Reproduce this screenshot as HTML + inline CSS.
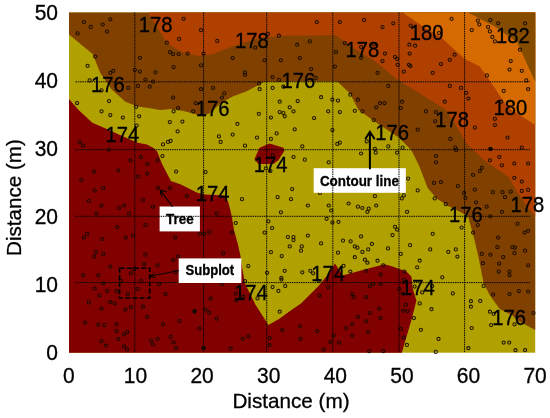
<!DOCTYPE html>
<html><head><meta charset="utf-8"><title>Contour plot</title>
<style>
html,body{margin:0;padding:0;background:#fff}
svg{display:block;filter:blur(0.4px)}
text{font-family:"Liberation Sans",Arial,sans-serif;fill:#000;stroke:#000;stroke-width:0.3px}
.b{font-weight:bold}
</style></head><body>
<svg width="550" height="418" viewBox="0 0 550 418">
<rect width="550" height="418" fill="#fff"/>
<rect x="69" y="12.5" width="466.2" height="340.2" fill="#b0a000"/>
<polygon fill="#804000" points="69,12.5 69,34.6 92.7,54 100.2,72.8 111.5,89.2 125.3,101.7 137.7,106.4 150.5,108.2 160,110 171,109 183.6,111 196.4,114.5 203.6,115.5 211,112.7 220,103.6 232.7,96.4 247.3,91 264.5,81.8 300,81.5 337.3,81.5 350,93.6 358.6,110 376.2,122.6 398.8,137.6 411.4,150.2 418.9,165.3 427.7,187.9 436.4,198.2 447.3,205.5 461.8,212.7 468.2,216.4 471,227.3 474.5,240 478.6,257.7 483.6,282.9 489.9,295.4 500,309.2 512.5,315.5 517.5,320.5 535.2,330 535.2,12.5"/>
<polygon fill="#b04000" points="148,12.5 160.5,32.6 166.8,42.7 180.6,51.5 198,56 213,54 235.7,45.2 260.8,37.7 283.4,35.7 336,35.2 351,46.5 373.7,60.3 398.8,80.4 419,93 430.8,100.5 446,110 457.2,127.6 466,142.7 474.8,151.5 487.4,162.8 508.4,176.8 515.1,188.5 521,197.7 528.5,208.6 535.2,216.3 535.2,12.5"/>
<polygon fill="#d46a00" points="402.6,12.5 419,23.8 441.5,37.7 464.8,59 479.8,66.5 494.9,87.9 503.7,101.7 511.2,110 520,115 535.2,125 535.2,12.5"/>
<polygon fill="#854c00" points="467.8,12.5 494.9,26.4 517.5,42.7 527.6,65.3 535.2,81.6 535.2,12.5"/>
<polygon fill="#810000" points="69,99.1 78.6,110 92.3,122.7 106.8,129.1 123.2,136.4 137.7,142.7 146.8,144.5 154,148.2 157.3,151.8 161.8,163.6 170.9,180.9 180.9,184.5 197.3,192.7 204.5,194.5 224.5,195.5 228.2,201.8 231.5,215 234,230 237.8,244 240.3,255 242,267 245,283.5 255.5,304.7 268.4,325 279,319 290,311 301,303.6 310,294.5 319,285.5 328,274.5 335,263.5 342.7,275.5 350,273.6 366.4,269 384.5,264.3 392.5,266.5 406.4,271.5 411.4,276.6 412.6,287.9 416.4,300.4 413.9,310.5 411.4,320 401.8,352.7 69,352.7"/>
<polygon fill="#810000" points="259.6,147.7 269.6,143.4 283.4,147.7 284.7,150.2 278.4,160.3 273.4,164 258.3,164 254.5,159"/>
<g fill="none" stroke="#150a00" stroke-opacity="0.92" stroke-width="1.05">
<circle cx="83.9" cy="22.1" r="1.6"/><circle cx="90.7" cy="26.9" r="1.6"/><circle cx="77.6" cy="33.4" r="1.6"/><circle cx="102.7" cy="24.6" r="1.6"/><circle cx="110.3" cy="19.3" r="1.6"/><circle cx="107.0" cy="31.6" r="1.6"/><circle cx="95.2" cy="56.5" r="1.6"/><circle cx="87.6" cy="65.8" r="1.6"/><circle cx="113.3" cy="70.8" r="1.6"/><circle cx="110.3" cy="72.8" r="1.6"/><circle cx="89.6" cy="80.4" r="1.6"/><circle cx="101.5" cy="90.4" r="1.6"/><circle cx="77.1" cy="103.0" r="1.6"/><circle cx="109.0" cy="101.0" r="1.6"/><circle cx="128.3" cy="87.9" r="1.6"/><circle cx="134.9" cy="69.8" r="1.6"/><circle cx="139.9" cy="71.6" r="1.6"/><circle cx="139.9" cy="57.8" r="1.6"/><circle cx="145.4" cy="79.6" r="1.6"/><circle cx="137.9" cy="85.9" r="1.6"/><circle cx="149.7" cy="86.7" r="1.6"/><circle cx="153.0" cy="81.6" r="1.6"/><circle cx="155.5" cy="72.3" r="1.6"/><circle cx="173.6" cy="67.1" r="1.6"/><circle cx="166.8" cy="42.7" r="1.6"/><circle cx="179.1" cy="38.9" r="1.6"/><circle cx="170.1" cy="52.2" r="1.6"/><circle cx="173.1" cy="54.0" r="1.6"/><circle cx="178.6" cy="54.0" r="1.6"/><circle cx="187.6" cy="53.5" r="1.6"/><circle cx="183.6" cy="18.8" r="1.6"/><circle cx="173.1" cy="97.5" r="1.6"/><circle cx="195.7" cy="103.0" r="1.6"/><circle cx="136.1" cy="106.8" r="1.6"/><circle cx="178.1" cy="108.0" r="1.6"/><circle cx="201.0" cy="30.1" r="1.6"/><circle cx="217.3" cy="40.9" r="1.6"/><circle cx="203.5" cy="53.5" r="1.6"/><circle cx="201.0" cy="65.3" r="1.6"/><circle cx="232.7" cy="58.0" r="1.6"/><circle cx="255.3" cy="47.7" r="1.6"/><circle cx="267.8" cy="33.9" r="1.6"/><circle cx="278.9" cy="35.7" r="1.6"/><circle cx="264.6" cy="60.3" r="1.6"/><circle cx="280.9" cy="60.3" r="1.6"/><circle cx="245.0" cy="72.3" r="1.6"/><circle cx="245.0" cy="74.8" r="1.6"/><circle cx="259.1" cy="83.6" r="1.6"/><circle cx="259.6" cy="89.2" r="1.6"/><circle cx="272.6" cy="77.1" r="1.6"/><circle cx="278.9" cy="79.9" r="1.6"/><circle cx="272.6" cy="87.9" r="1.6"/><circle cx="283.4" cy="86.7" r="1.6"/><circle cx="213.1" cy="87.9" r="1.6"/><circle cx="224.4" cy="93.4" r="1.6"/><circle cx="221.9" cy="97.5" r="1.6"/><circle cx="201.0" cy="89.2" r="1.6"/><circle cx="297.2" cy="44.7" r="1.6"/><circle cx="309.8" cy="41.4" r="1.6"/><circle cx="316.8" cy="22.1" r="1.6"/><circle cx="299.8" cy="58.0" r="1.6"/><circle cx="311.1" cy="69.1" r="1.6"/><circle cx="315.6" cy="77.9" r="1.6"/><circle cx="334.9" cy="66.6" r="1.6"/><circle cx="321.1" cy="97.2" r="1.6"/><circle cx="297.7" cy="101.0" r="1.6"/><circle cx="279.7" cy="101.7" r="1.6"/><circle cx="289.7" cy="107.3" r="1.6"/><circle cx="332.4" cy="99.7" r="1.6"/><circle cx="339.8" cy="22.1" r="1.6"/><circle cx="364.1" cy="20.1" r="1.6"/><circle cx="382.5" cy="27.1" r="1.6"/><circle cx="393.3" cy="23.3" r="1.6"/><circle cx="410.6" cy="25.6" r="1.6"/><circle cx="451.6" cy="18.8" r="1.6"/><circle cx="471.7" cy="30.1" r="1.6"/><circle cx="344.8" cy="43.2" r="1.6"/><circle cx="361.1" cy="47.0" r="1.6"/><circle cx="373.7" cy="44.4" r="1.6"/><circle cx="361.1" cy="57.8" r="1.6"/><circle cx="385.0" cy="53.5" r="1.6"/><circle cx="382.5" cy="61.0" r="1.6"/><circle cx="395.0" cy="57.0" r="1.6"/><circle cx="397.1" cy="59.0" r="1.6"/><circle cx="397.6" cy="64.8" r="1.6"/><circle cx="377.5" cy="72.8" r="1.6"/><circle cx="403.8" cy="71.6" r="1.6"/><circle cx="409.4" cy="44.7" r="1.6"/><circle cx="415.1" cy="45.7" r="1.6"/><circle cx="409.6" cy="53.5" r="1.6"/><circle cx="408.9" cy="64.8" r="1.6"/><circle cx="410.4" cy="66.1" r="1.6"/><circle cx="432.7" cy="72.8" r="1.6"/><circle cx="441.0" cy="64.0" r="1.6"/><circle cx="449.8" cy="59.8" r="1.6"/><circle cx="454.6" cy="54.7" r="1.6"/><circle cx="439.0" cy="33.1" r="1.6"/><circle cx="388.3" cy="85.9" r="1.6"/><circle cx="350.3" cy="94.7" r="1.6"/><circle cx="338.0" cy="100.5" r="1.6"/><circle cx="357.9" cy="99.7" r="1.6"/><circle cx="380.0" cy="103.0" r="1.6"/><circle cx="384.5" cy="103.0" r="1.6"/><circle cx="376.2" cy="107.3" r="1.6"/><circle cx="402.1" cy="101.7" r="1.6"/><circle cx="400.8" cy="108.0" r="1.6"/><circle cx="444.8" cy="101.7" r="1.6"/><circle cx="449.8" cy="85.9" r="1.6"/><circle cx="461.1" cy="87.9" r="1.6"/><circle cx="466.2" cy="92.9" r="1.6"/><circle cx="468.4" cy="98.5" r="1.6"/><circle cx="336.0" cy="52.2" r="1.6"/><circle cx="477.8" cy="20.6" r="1.6"/><circle cx="479.3" cy="24.6" r="1.6"/><circle cx="488.1" cy="27.1" r="1.6"/><circle cx="489.9" cy="31.4" r="1.6"/><circle cx="492.4" cy="36.9" r="1.6"/><circle cx="494.9" cy="41.4" r="1.6"/><circle cx="490.4" cy="20.1" r="1.6"/><circle cx="498.2" cy="23.3" r="1.6"/><circle cx="525.1" cy="23.3" r="1.6"/><circle cx="520.0" cy="49.7" r="1.6"/><circle cx="510.7" cy="61.0" r="1.6"/><circle cx="509.5" cy="69.6" r="1.6"/><circle cx="521.8" cy="70.8" r="1.6"/><circle cx="526.3" cy="80.4" r="1.6"/><circle cx="528.1" cy="89.2" r="1.6"/><circle cx="503.7" cy="90.9" r="1.6"/><circle cx="486.9" cy="75.4" r="1.6"/><circle cx="501.2" cy="101.7" r="1.6"/><circle cx="101.5" cy="111.3" r="1.6"/><circle cx="110.3" cy="115.0" r="1.6"/><circle cx="122.8" cy="117.5" r="1.6"/><circle cx="139.1" cy="116.3" r="1.6"/><circle cx="136.6" cy="125.6" r="1.6"/><circle cx="169.8" cy="122.1" r="1.6"/><circle cx="182.4" cy="121.6" r="1.6"/><circle cx="177.6" cy="131.4" r="1.6"/><circle cx="163.0" cy="144.4" r="1.6"/><circle cx="168.0" cy="141.9" r="1.6"/><circle cx="170.6" cy="140.9" r="1.6"/><circle cx="162.5" cy="156.0" r="1.6"/><circle cx="176.1" cy="171.6" r="1.6"/><circle cx="186.9" cy="195.9" r="1.6"/><circle cx="79.6" cy="142.2" r="1.6"/><circle cx="83.1" cy="145.7" r="1.6"/><circle cx="109.0" cy="149.7" r="1.6"/><circle cx="130.4" cy="160.3" r="1.6"/><circle cx="140.9" cy="157.2" r="1.6"/><circle cx="147.4" cy="164.0" r="1.6"/><circle cx="157.5" cy="160.3" r="1.6"/><circle cx="93.9" cy="171.6" r="1.6"/><circle cx="118.3" cy="170.3" r="1.6"/><circle cx="147.2" cy="173.6" r="1.6"/><circle cx="137.9" cy="176.6" r="1.6"/><circle cx="81.4" cy="179.8" r="1.6"/><circle cx="103.2" cy="187.9" r="1.6"/><circle cx="94.7" cy="190.4" r="1.6"/><circle cx="158.0" cy="187.9" r="1.6"/><circle cx="169.8" cy="187.9" r="1.6"/><circle cx="88.9" cy="201.0" r="1.6"/><circle cx="101.5" cy="205.5" r="1.6"/><circle cx="124.1" cy="205.5" r="1.6"/><circle cx="119.0" cy="208.0" r="1.6"/><circle cx="142.9" cy="199.9" r="1.6"/><circle cx="153.0" cy="206.7" r="1.6"/><circle cx="129.1" cy="213.5" r="1.6"/><circle cx="96.4" cy="213.5" r="1.6"/><circle cx="173.6" cy="111.3" r="1.6"/><circle cx="193.2" cy="111.3" r="1.6"/><circle cx="258.8" cy="113.8" r="1.6"/><circle cx="270.9" cy="117.5" r="1.6"/><circle cx="279.7" cy="112.0" r="1.6"/><circle cx="283.4" cy="113.0" r="1.6"/><circle cx="284.7" cy="116.3" r="1.6"/><circle cx="293.5" cy="111.3" r="1.6"/><circle cx="314.1" cy="118.0" r="1.6"/><circle cx="328.2" cy="111.3" r="1.6"/><circle cx="237.4" cy="123.8" r="1.6"/><circle cx="294.7" cy="129.3" r="1.6"/><circle cx="332.4" cy="130.1" r="1.6"/><circle cx="218.9" cy="136.4" r="1.6"/><circle cx="232.7" cy="134.6" r="1.6"/><circle cx="220.6" cy="141.9" r="1.6"/><circle cx="257.0" cy="137.6" r="1.6"/><circle cx="270.9" cy="138.9" r="1.6"/><circle cx="276.6" cy="133.4" r="1.6"/><circle cx="245.0" cy="145.7" r="1.6"/><circle cx="302.3" cy="146.4" r="1.6"/><circle cx="293.5" cy="157.0" r="1.6"/><circle cx="304.8" cy="159.7" r="1.6"/><circle cx="328.7" cy="162.3" r="1.6"/><circle cx="272.9" cy="155.2" r="1.6"/><circle cx="265.8" cy="168.3" r="1.6"/><circle cx="270.4" cy="171.1" r="1.6"/><circle cx="205.5" cy="172.1" r="1.6"/><circle cx="292.2" cy="189.1" r="1.6"/><circle cx="319.9" cy="192.9" r="1.6"/><circle cx="242.0" cy="199.2" r="1.6"/><circle cx="277.6" cy="197.2" r="1.6"/><circle cx="291.0" cy="199.2" r="1.6"/><circle cx="307.8" cy="205.5" r="1.6"/><circle cx="328.7" cy="205.5" r="1.6"/><circle cx="280.9" cy="212.3" r="1.6"/><circle cx="331.2" cy="210.5" r="1.6"/><circle cx="216.8" cy="213.5" r="1.6"/><circle cx="339.8" cy="112.0" r="1.6"/><circle cx="354.8" cy="110.8" r="1.6"/><circle cx="362.4" cy="111.3" r="1.6"/><circle cx="373.7" cy="120.1" r="1.6"/><circle cx="366.7" cy="141.4" r="1.6"/><circle cx="339.8" cy="142.7" r="1.6"/><circle cx="337.3" cy="143.9" r="1.6"/><circle cx="374.9" cy="148.9" r="1.6"/><circle cx="375.7" cy="152.7" r="1.6"/><circle cx="361.1" cy="153.5" r="1.6"/><circle cx="388.3" cy="146.4" r="1.6"/><circle cx="402.6" cy="147.7" r="1.6"/><circle cx="397.1" cy="152.7" r="1.6"/><circle cx="417.7" cy="129.6" r="1.6"/><circle cx="435.2" cy="121.3" r="1.6"/><circle cx="425.9" cy="111.3" r="1.6"/><circle cx="436.0" cy="112.0" r="1.6"/><circle cx="450.3" cy="138.9" r="1.6"/><circle cx="455.3" cy="147.7" r="1.6"/><circle cx="456.1" cy="150.2" r="1.6"/><circle cx="436.0" cy="156.0" r="1.6"/><circle cx="436.0" cy="162.3" r="1.6"/><circle cx="408.1" cy="178.6" r="1.6"/><circle cx="434.0" cy="182.9" r="1.6"/><circle cx="441.0" cy="182.1" r="1.6"/><circle cx="457.9" cy="186.1" r="1.6"/><circle cx="417.7" cy="190.4" r="1.6"/><circle cx="403.8" cy="195.4" r="1.6"/><circle cx="401.8" cy="198.4" r="1.6"/><circle cx="374.9" cy="196.2" r="1.6"/><circle cx="434.7" cy="198.4" r="1.6"/><circle cx="445.8" cy="204.2" r="1.6"/><circle cx="465.4" cy="197.9" r="1.6"/><circle cx="464.1" cy="192.9" r="1.6"/><circle cx="348.6" cy="203.5" r="1.6"/><circle cx="357.9" cy="206.7" r="1.6"/><circle cx="362.4" cy="208.0" r="1.6"/><circle cx="368.7" cy="208.7" r="1.6"/><circle cx="367.4" cy="211.8" r="1.6"/><circle cx="376.2" cy="205.5" r="1.6"/><circle cx="407.1" cy="211.8" r="1.6"/><circle cx="474.8" cy="127.6" r="1.6"/><circle cx="494.9" cy="118.8" r="1.6"/><circle cx="494.9" cy="125.1" r="1.6"/><circle cx="507.5" cy="137.6" r="1.6"/><circle cx="490.6" cy="148.9" r="1.6"/><circle cx="521.8" cy="147.7" r="1.6"/><circle cx="499.4" cy="157.0" r="1.6"/><circle cx="489.9" cy="160.3" r="1.6"/><circle cx="501.9" cy="165.3" r="1.6"/><circle cx="514.3" cy="163.5" r="1.6"/><circle cx="528.1" cy="163.5" r="1.6"/><circle cx="481.8" cy="167.8" r="1.6"/><circle cx="479.8" cy="171.1" r="1.6"/><circle cx="473.1" cy="174.8" r="1.6"/><circle cx="514.3" cy="177.8" r="1.6"/><circle cx="521.8" cy="181.6" r="1.6"/><circle cx="474.8" cy="189.6" r="1.6"/><circle cx="492.9" cy="192.2" r="1.6"/><circle cx="502.5" cy="192.2" r="1.6"/><circle cx="510.7" cy="191.7" r="1.6"/><circle cx="521.8" cy="190.9" r="1.6"/><circle cx="528.1" cy="189.9" r="1.6"/><circle cx="505.0" cy="197.2" r="1.6"/><circle cx="476.1" cy="202.5" r="1.6"/><circle cx="486.6" cy="206.7" r="1.6"/><circle cx="501.9" cy="211.8" r="1.6"/><circle cx="117.3" cy="227.1" r="1.6"/><circle cx="145.4" cy="225.1" r="1.6"/><circle cx="87.1" cy="233.8" r="1.6"/><circle cx="83.9" cy="237.6" r="1.6"/><circle cx="102.2" cy="238.9" r="1.6"/><circle cx="125.8" cy="237.6" r="1.6"/><circle cx="132.9" cy="235.6" r="1.6"/><circle cx="175.1" cy="237.6" r="1.6"/><circle cx="95.9" cy="252.2" r="1.6"/><circle cx="94.4" cy="256.5" r="1.6"/><circle cx="103.2" cy="253.9" r="1.6"/><circle cx="145.4" cy="254.7" r="1.6"/><circle cx="178.1" cy="256.5" r="1.6"/><circle cx="173.1" cy="260.2" r="1.6"/><circle cx="144.2" cy="264.0" r="1.6"/><circle cx="157.5" cy="265.3" r="1.6"/><circle cx="110.3" cy="266.5" r="1.6"/><circle cx="134.1" cy="269.0" r="1.6"/><circle cx="130.9" cy="273.3" r="1.6"/><circle cx="83.1" cy="275.3" r="1.6"/><circle cx="98.2" cy="275.3" r="1.6"/><circle cx="175.6" cy="272.3" r="1.6"/><circle cx="121.1" cy="280.8" r="1.6"/><circle cx="141.2" cy="281.1" r="1.6"/><circle cx="103.2" cy="283.3" r="1.6"/><circle cx="159.2" cy="284.1" r="1.6"/><circle cx="94.7" cy="288.6" r="1.6"/><circle cx="107.2" cy="290.9" r="1.6"/><circle cx="116.5" cy="291.1" r="1.6"/><circle cx="137.4" cy="289.1" r="1.6"/><circle cx="99.4" cy="295.4" r="1.6"/><circle cx="127.8" cy="294.1" r="1.6"/><circle cx="165.5" cy="294.1" r="1.6"/><circle cx="88.9" cy="302.4" r="1.6"/><circle cx="110.3" cy="302.2" r="1.6"/><circle cx="114.8" cy="303.4" r="1.6"/><circle cx="142.9" cy="306.7" r="1.6"/><circle cx="101.5" cy="308.5" r="1.6"/><circle cx="125.3" cy="309.7" r="1.6"/><circle cx="130.9" cy="307.2" r="1.6"/><circle cx="147.2" cy="316.8" r="1.6"/><circle cx="194.4" cy="311.7" r="1.6"/><circle cx="235.7" cy="223.0" r="1.6"/><circle cx="231.9" cy="232.6" r="1.6"/><circle cx="268.4" cy="221.3" r="1.6"/><circle cx="272.1" cy="228.1" r="1.6"/><circle cx="264.6" cy="232.6" r="1.6"/><circle cx="287.9" cy="237.1" r="1.6"/><circle cx="293.5" cy="237.1" r="1.6"/><circle cx="293.5" cy="240.1" r="1.6"/><circle cx="307.8" cy="235.6" r="1.6"/><circle cx="321.1" cy="243.4" r="1.6"/><circle cx="289.7" cy="246.4" r="1.6"/><circle cx="301.8" cy="246.4" r="1.6"/><circle cx="301.0" cy="250.7" r="1.6"/><circle cx="270.9" cy="252.2" r="1.6"/><circle cx="281.7" cy="256.0" r="1.6"/><circle cx="223.1" cy="253.4" r="1.6"/><circle cx="209.3" cy="232.1" r="1.6"/><circle cx="204.3" cy="233.8" r="1.6"/><circle cx="200.0" cy="233.8" r="1.6"/><circle cx="326.6" cy="218.8" r="1.6"/><circle cx="332.4" cy="222.5" r="1.6"/><circle cx="248.3" cy="266.0" r="1.6"/><circle cx="284.7" cy="270.8" r="1.6"/><circle cx="267.1" cy="272.8" r="1.6"/><circle cx="302.3" cy="272.3" r="1.6"/><circle cx="310.3" cy="270.8" r="1.6"/><circle cx="313.1" cy="273.3" r="1.6"/><circle cx="281.4" cy="277.8" r="1.6"/><circle cx="281.4" cy="279.6" r="1.6"/><circle cx="245.0" cy="281.1" r="1.6"/><circle cx="272.6" cy="287.1" r="1.6"/><circle cx="285.2" cy="285.9" r="1.6"/><circle cx="278.4" cy="290.9" r="1.6"/><circle cx="318.6" cy="280.8" r="1.6"/><circle cx="328.2" cy="287.1" r="1.6"/><circle cx="319.4" cy="295.4" r="1.6"/><circle cx="221.9" cy="284.1" r="1.6"/><circle cx="235.7" cy="293.6" r="1.6"/><circle cx="243.2" cy="296.7" r="1.6"/><circle cx="257.5" cy="298.4" r="1.6"/><circle cx="210.6" cy="298.7" r="1.6"/><circle cx="236.2" cy="300.4" r="1.6"/><circle cx="205.5" cy="309.7" r="1.6"/><circle cx="209.3" cy="312.5" r="1.6"/><circle cx="279.7" cy="311.7" r="1.6"/><circle cx="216.8" cy="318.5" r="1.6"/><circle cx="338.5" cy="221.8" r="1.6"/><circle cx="395.0" cy="226.8" r="1.6"/><circle cx="397.1" cy="229.6" r="1.6"/><circle cx="392.5" cy="235.1" r="1.6"/><circle cx="432.7" cy="233.8" r="1.6"/><circle cx="361.1" cy="236.4" r="1.6"/><circle cx="343.0" cy="240.6" r="1.6"/><circle cx="350.6" cy="241.4" r="1.6"/><circle cx="371.9" cy="243.9" r="1.6"/><circle cx="354.8" cy="246.4" r="1.6"/><circle cx="357.4" cy="247.7" r="1.6"/><circle cx="368.2" cy="249.4" r="1.6"/><circle cx="362.4" cy="251.9" r="1.6"/><circle cx="388.0" cy="248.4" r="1.6"/><circle cx="410.1" cy="245.2" r="1.6"/><circle cx="430.2" cy="249.4" r="1.6"/><circle cx="455.8" cy="249.4" r="1.6"/><circle cx="448.3" cy="251.9" r="1.6"/><circle cx="338.0" cy="252.7" r="1.6"/><circle cx="400.8" cy="253.9" r="1.6"/><circle cx="457.4" cy="256.5" r="1.6"/><circle cx="354.8" cy="257.2" r="1.6"/><circle cx="364.9" cy="259.7" r="1.6"/><circle cx="367.4" cy="262.7" r="1.6"/><circle cx="377.5" cy="260.7" r="1.6"/><circle cx="419.7" cy="260.7" r="1.6"/><circle cx="343.5" cy="265.8" r="1.6"/><circle cx="417.2" cy="267.3" r="1.6"/><circle cx="383.2" cy="265.3" r="1.6"/><circle cx="366.2" cy="270.8" r="1.6"/><circle cx="350.3" cy="271.5" r="1.6"/><circle cx="380.7" cy="274.5" r="1.6"/><circle cx="404.3" cy="271.5" r="1.6"/><circle cx="442.3" cy="277.3" r="1.6"/><circle cx="403.8" cy="279.8" r="1.6"/><circle cx="373.2" cy="284.1" r="1.6"/><circle cx="369.9" cy="286.1" r="1.6"/><circle cx="380.7" cy="284.1" r="1.6"/><circle cx="399.3" cy="289.1" r="1.6"/><circle cx="432.2" cy="286.1" r="1.6"/><circle cx="414.6" cy="286.6" r="1.6"/><circle cx="422.2" cy="292.4" r="1.6"/><circle cx="452.8" cy="293.4" r="1.6"/><circle cx="352.3" cy="294.1" r="1.6"/><circle cx="353.6" cy="297.2" r="1.6"/><circle cx="366.2" cy="297.2" r="1.6"/><circle cx="402.6" cy="293.6" r="1.6"/><circle cx="419.7" cy="303.4" r="1.6"/><circle cx="405.8" cy="304.9" r="1.6"/><circle cx="470.9" cy="301.2" r="1.6"/><circle cx="470.9" cy="306.7" r="1.6"/><circle cx="379.2" cy="308.5" r="1.6"/><circle cx="403.1" cy="310.5" r="1.6"/><circle cx="407.6" cy="311.0" r="1.6"/><circle cx="431.5" cy="309.2" r="1.6"/><circle cx="369.9" cy="313.0" r="1.6"/><circle cx="358.1" cy="316.8" r="1.6"/><circle cx="413.9" cy="318.0" r="1.6"/><circle cx="461.6" cy="227.6" r="1.6"/><circle cx="490.4" cy="216.3" r="1.6"/><circle cx="477.8" cy="225.1" r="1.6"/><circle cx="517.5" cy="223.8" r="1.6"/><circle cx="473.1" cy="232.6" r="1.6"/><circle cx="524.6" cy="232.6" r="1.6"/><circle cx="528.1" cy="230.8" r="1.6"/><circle cx="498.2" cy="237.6" r="1.6"/><circle cx="497.4" cy="247.2" r="1.6"/><circle cx="512.5" cy="247.2" r="1.6"/><circle cx="515.0" cy="247.7" r="1.6"/><circle cx="525.1" cy="250.7" r="1.6"/><circle cx="514.5" cy="253.2" r="1.6"/><circle cx="481.8" cy="253.9" r="1.6"/><circle cx="490.4" cy="254.7" r="1.6"/><circle cx="503.2" cy="257.0" r="1.6"/><circle cx="482.9" cy="263.2" r="1.6"/><circle cx="499.2" cy="263.5" r="1.6"/><circle cx="528.1" cy="265.3" r="1.6"/><circle cx="498.7" cy="271.5" r="1.6"/><circle cx="509.5" cy="271.5" r="1.6"/><circle cx="509.5" cy="275.3" r="1.6"/><circle cx="483.6" cy="285.9" r="1.6"/><circle cx="493.2" cy="294.6" r="1.6"/><circle cx="509.5" cy="294.1" r="1.6"/><circle cx="518.8" cy="291.1" r="1.6"/><circle cx="528.1" cy="291.6" r="1.6"/><circle cx="480.3" cy="300.9" r="1.6"/><circle cx="489.9" cy="311.7" r="1.6"/><circle cx="533.4" cy="313.0" r="1.6"/><circle cx="85.1" cy="322.5" r="1.6"/><circle cx="98.2" cy="324.6" r="1.6"/><circle cx="104.5" cy="325.1" r="1.6"/><circle cx="116.5" cy="324.3" r="1.6"/><circle cx="116.5" cy="331.1" r="1.6"/><circle cx="127.3" cy="332.1" r="1.6"/><circle cx="124.1" cy="334.4" r="1.6"/><circle cx="118.3" cy="338.9" r="1.6"/><circle cx="101.5" cy="341.1" r="1.6"/><circle cx="105.7" cy="345.7" r="1.6"/><circle cx="124.1" cy="346.4" r="1.6"/><circle cx="127.1" cy="349.4" r="1.6"/><circle cx="163.0" cy="324.3" r="1.6"/><circle cx="179.3" cy="321.0" r="1.6"/><circle cx="170.6" cy="336.9" r="1.6"/><circle cx="157.5" cy="338.9" r="1.6"/><circle cx="151.0" cy="340.6" r="1.6"/><circle cx="153.0" cy="344.4" r="1.6"/><circle cx="173.6" cy="342.4" r="1.6"/><circle cx="176.1" cy="348.2" r="1.6"/><circle cx="199.3" cy="328.6" r="1.6"/><circle cx="248.3" cy="336.4" r="1.6"/><circle cx="242.7" cy="338.9" r="1.6"/><circle cx="230.7" cy="348.7" r="1.6"/><circle cx="203.5" cy="348.2" r="1.6"/><circle cx="269.6" cy="338.1" r="1.6"/><circle cx="269.6" cy="345.2" r="1.6"/><circle cx="282.2" cy="330.1" r="1.6"/><circle cx="299.8" cy="326.3" r="1.6"/><circle cx="317.3" cy="331.1" r="1.6"/><circle cx="300.5" cy="338.9" r="1.6"/><circle cx="323.6" cy="349.4" r="1.6"/><circle cx="330.4" cy="341.9" r="1.6"/><circle cx="333.7" cy="335.6" r="1.6"/><circle cx="380.5" cy="318.0" r="1.6"/><circle cx="366.2" cy="321.3" r="1.6"/><circle cx="352.3" cy="324.3" r="1.6"/><circle cx="346.1" cy="328.1" r="1.6"/><circle cx="368.2" cy="332.3" r="1.6"/><circle cx="352.3" cy="335.6" r="1.6"/><circle cx="339.0" cy="342.6" r="1.6"/><circle cx="369.2" cy="351.2" r="1.6"/><circle cx="383.2" cy="351.2" r="1.6"/><circle cx="400.8" cy="328.8" r="1.6"/><circle cx="403.8" cy="337.6" r="1.6"/><circle cx="406.9" cy="344.9" r="1.6"/><circle cx="420.9" cy="329.8" r="1.6"/><circle cx="438.5" cy="338.9" r="1.6"/><circle cx="435.7" cy="351.9" r="1.6"/><circle cx="471.7" cy="328.1" r="1.6"/><circle cx="468.4" cy="348.2" r="1.6"/><circle cx="491.1" cy="325.1" r="1.6"/><circle cx="503.7" cy="342.6" r="1.6"/><circle cx="509.2" cy="342.6" r="1.6"/><circle cx="515.5" cy="350.2" r="1.6"/><circle cx="525.1" cy="350.2" r="1.6"/><circle cx="514.5" cy="324.3" r="1.6"/><circle cx="493.7" cy="313.8" r="1.6"/>
</g>
<g font-size="20.2">
<text transform="translate(138.7,32.3) scale(1,1.05)">178</text>
<text transform="translate(91.0,91.7) scale(1,1.05)">176</text>
<text transform="translate(235.0,47.7) scale(1,1.05)">178</text>
<text transform="translate(281.5,88.2) scale(1,1.05)">176</text>
<text transform="translate(345.6,56.8) scale(1,1.05)">178</text>
<text transform="translate(409.7,39.7) scale(1,1.05)">180</text>
<text transform="translate(496.0,42.7) scale(1,1.05)">182</text>
<text transform="translate(493.5,115.3) scale(1,1.05)">180</text>
<text transform="translate(105.6,142) scale(1,1.05)">174</text>
<text transform="translate(253.8,172.4) scale(1,1.05)">174</text>
<text transform="translate(195.8,200.6) scale(1,1.05)">174</text>
<text transform="translate(375.2,139.6) scale(1,1.05)">176</text>
<text transform="translate(435.2,127.1) scale(1,1.05)">178</text>
<text transform="translate(510.6,211.5) scale(1,1.05)">178</text>
<text transform="translate(449.0,221.5) scale(1,1.05)">176</text>
<text transform="translate(195.8,115.8) scale(1,1.05)">176</text>
<text transform="translate(234.0,300) scale(1,1.05)">174</text>
<text transform="translate(311.2,280.6) scale(1,1.05)">174</text>
<text transform="translate(401.1,295.4) scale(1,1.05)">174</text>
<text transform="translate(492.2,325.2) scale(1,1.05)">176</text>
</g>
<rect x="159.6" y="206.5" width="40.3" height="24.9" fill="#fff"/>
<rect x="313.7" y="168.2" width="92.1" height="24.6" fill="#fff"/>
<g class="b" font-size="14.6" text-anchor="middle">
<text font-size="14.2" transform="translate(179.8,223.7) scale(0.95,1)">Tree</text>
<text transform="translate(359.4,185.6) scale(0.92,1)">Contour line</text>
</g>
<g stroke="#000" stroke-opacity="1" stroke-width="0.95" stroke-dasharray="1.5 0.8" fill="none">
<line x1="134.8" y1="12.5" x2="134.8" y2="352.7"/>
<line x1="203.6" y1="12.5" x2="203.6" y2="352.7"/>
<line x1="266.7" y1="12.5" x2="266.7" y2="352.7"/>
<line x1="332.8" y1="12.5" x2="332.8" y2="352.7"/>
<line x1="399" y1="12.5" x2="399" y2="352.7"/>
<line x1="464.6" y1="12.5" x2="464.6" y2="352.7"/>
<line x1="75.5" y1="81.8" x2="530" y2="81.8"/>
<line x1="75.5" y1="149.7" x2="530" y2="149.7"/>
<line x1="75.5" y1="216.3" x2="530" y2="216.3"/>
<line x1="75.5" y1="282.6" x2="530" y2="282.6"/>
</g>
<rect x="178.7" y="258.4" width="62.7" height="24.6" fill="#fff"/>
<text class="b" font-size="14.6" text-anchor="middle" transform="translate(209.8,274.6) scale(0.9,1)">Subplot</text>
<g fill="#100800"><circle cx="203.6" cy="348" r="2"/><circle cx="194.6" cy="311.1" r="2"/><circle cx="490.4" cy="149.1" r="2"/></g>
<rect x="119.6" y="268.3" width="30.1" height="29.7" fill="none" stroke="#000" stroke-width="1.6" stroke-dasharray="5 2.2"/>
<g stroke="#000" fill="none" stroke-linecap="round">
<path stroke-width="2" d="M369.9,168.5V132.5 M365.6,138.5L369.9,131.8L374.2,138.5"/>
<path stroke-width="0.9" d="M178.7,270.6L150.3,276.2 M154.6,273.2L150.3,276.2L155.4,277.8"/>
<path stroke-width="1.1" d="M172.3,206.5L160.3,190.3 M161.4,196.2L160.3,190.3L166.2,191.8"/>
</g>
<g font-size="21" text-anchor="middle">
<text transform="translate(68.9,382.6) scale(1,1.05)">0</text>
<text transform="translate(135.5,382.6) scale(1,1.05)">10</text>
<text transform="translate(202.1,382.6) scale(1,1.05)">20</text>
<text transform="translate(268.7,382.6) scale(1,1.05)">30</text>
<text transform="translate(335.3,382.6) scale(1,1.05)">40</text>
<text transform="translate(401.9,382.6) scale(1,1.05)">50</text>
<text transform="translate(468.5,382.6) scale(1,1.05)">60</text>
<text transform="translate(535.1,382.6) scale(1,1.05)">70</text>
</g>
<g font-size="21" text-anchor="end">
<text transform="translate(58,359.7) scale(1,1.05)">0</text>
<text transform="translate(58,291.7) scale(1,1.05)">10</text>
<text transform="translate(58,223.6) scale(1,1.05)">20</text>
<text transform="translate(58,155.6) scale(1,1.05)">30</text>
<text transform="translate(58,87.5) scale(1,1.05)">40</text>
<text transform="translate(58,19.5) scale(1,1.05)">50</text>
</g>
<text font-size="20.7" text-anchor="middle" x="291" y="407.5">Distance (m)</text>
<text font-size="20.6" text-anchor="middle" transform="translate(20.5,197.6) rotate(-90)">Distance (m)</text>
</svg>
</body></html>
